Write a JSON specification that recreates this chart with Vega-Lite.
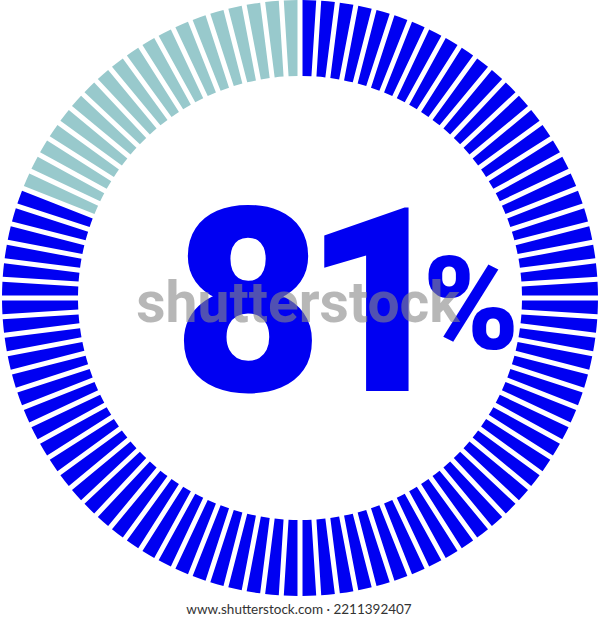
{
  "$schema": "https://vega.github.io/schema/vega-lite/v6.json",
  "width": 600,
  "height": 596,
  "padding": 0,
  "background": "white",
  "config": {"view": {"stroke": null}},
  "layer": [
    {
      "data": {"values": [
        {"seg":1,"status":"done","v":1},{"seg":2,"status":"done","v":1},{"seg":3,"status":"done","v":1},{"seg":4,"status":"done","v":1},{"seg":5,"status":"done","v":1},
        {"seg":6,"status":"done","v":1},{"seg":7,"status":"done","v":1},{"seg":8,"status":"done","v":1},{"seg":9,"status":"done","v":1},{"seg":10,"status":"done","v":1},
        {"seg":11,"status":"done","v":1},{"seg":12,"status":"done","v":1},{"seg":13,"status":"done","v":1},{"seg":14,"status":"done","v":1},{"seg":15,"status":"done","v":1},
        {"seg":16,"status":"done","v":1},{"seg":17,"status":"done","v":1},{"seg":18,"status":"done","v":1},{"seg":19,"status":"done","v":1},{"seg":20,"status":"done","v":1},
        {"seg":21,"status":"done","v":1},{"seg":22,"status":"done","v":1},{"seg":23,"status":"done","v":1},{"seg":24,"status":"done","v":1},{"seg":25,"status":"done","v":1},
        {"seg":26,"status":"done","v":1},{"seg":27,"status":"done","v":1},{"seg":28,"status":"done","v":1},{"seg":29,"status":"done","v":1},{"seg":30,"status":"done","v":1},
        {"seg":31,"status":"done","v":1},{"seg":32,"status":"done","v":1},{"seg":33,"status":"done","v":1},{"seg":34,"status":"done","v":1},{"seg":35,"status":"done","v":1},
        {"seg":36,"status":"done","v":1},{"seg":37,"status":"done","v":1},{"seg":38,"status":"done","v":1},{"seg":39,"status":"done","v":1},{"seg":40,"status":"done","v":1},
        {"seg":41,"status":"done","v":1},{"seg":42,"status":"done","v":1},{"seg":43,"status":"done","v":1},{"seg":44,"status":"done","v":1},{"seg":45,"status":"done","v":1},
        {"seg":46,"status":"done","v":1},{"seg":47,"status":"done","v":1},{"seg":48,"status":"done","v":1},{"seg":49,"status":"done","v":1},{"seg":50,"status":"done","v":1},
        {"seg":51,"status":"done","v":1},{"seg":52,"status":"done","v":1},{"seg":53,"status":"done","v":1},{"seg":54,"status":"done","v":1},{"seg":55,"status":"done","v":1},
        {"seg":56,"status":"done","v":1},{"seg":57,"status":"done","v":1},{"seg":58,"status":"done","v":1},{"seg":59,"status":"done","v":1},{"seg":60,"status":"done","v":1},
        {"seg":61,"status":"done","v":1},{"seg":62,"status":"done","v":1},{"seg":63,"status":"done","v":1},{"seg":64,"status":"done","v":1},{"seg":65,"status":"done","v":1},
        {"seg":66,"status":"done","v":1},{"seg":67,"status":"done","v":1},{"seg":68,"status":"done","v":1},{"seg":69,"status":"done","v":1},{"seg":70,"status":"done","v":1},
        {"seg":71,"status":"done","v":1},{"seg":72,"status":"done","v":1},{"seg":73,"status":"done","v":1},{"seg":74,"status":"done","v":1},{"seg":75,"status":"done","v":1},
        {"seg":76,"status":"done","v":1},{"seg":77,"status":"done","v":1},{"seg":78,"status":"done","v":1},{"seg":79,"status":"done","v":1},{"seg":80,"status":"done","v":1},
        {"seg":81,"status":"done","v":1},{"seg":82,"status":"left","v":1},{"seg":83,"status":"left","v":1},{"seg":84,"status":"left","v":1},{"seg":85,"status":"left","v":1},
        {"seg":86,"status":"left","v":1},{"seg":87,"status":"left","v":1},{"seg":88,"status":"left","v":1},{"seg":89,"status":"left","v":1},{"seg":90,"status":"left","v":1},
        {"seg":91,"status":"left","v":1},{"seg":92,"status":"left","v":1},{"seg":93,"status":"left","v":1},{"seg":94,"status":"left","v":1},{"seg":95,"status":"left","v":1},
        {"seg":96,"status":"left","v":1},{"seg":97,"status":"left","v":1},{"seg":98,"status":"left","v":1},{"seg":99,"status":"left","v":1},{"seg":100,"status":"left","v":1}
      ]},
      "mark": {"type": "arc", "outerRadius": 298, "innerRadius": 222, "padAngle": 0.0135},
      "encoding": {
        "theta": {"field": "v", "type": "quantitative", "stack": true},
        "order": {"field": "seg", "type": "quantitative", "sort": "ascending"},
        "color": {"field": "status", "type": "nominal", "scale": {"domain": ["done", "left"], "range": ["#0000f2", "#98c9cc"]}, "legend": null}
      }
    },
    {
      "data": {"values": [{"label": "8"}]},
      "mark": {"type": "text", "x": {"expr": "width/2"}, "y": {"expr": "height/2"}, "dx": -52, "dy": 93, "align": "center", "baseline": "alphabetic", "font": "Roboto", "fontWeight": 900, "fontSize": 258, "fill": "#0000f2"},
      "encoding": {"text": {"field": "label"}}
    },
    {
      "data": {"values": [{"label": "1"}]},
      "mark": {"type": "text", "x": {"expr": "width/2"}, "y": {"expr": "height/2"}, "dx": 78, "dy": 93, "align": "center", "baseline": "alphabetic", "font": "Roboto", "fontWeight": 900, "fontSize": 258, "fill": "#0000f2"},
      "encoding": {"text": {"field": "label"}}
    },
    {
      "data": {"values": [{"label": "%"}]},
      "mark": {"type": "text", "x": {"expr": "width/2"}, "y": {"expr": "height/2"}, "dx": 171, "dy": 51, "align": "center", "baseline": "alphabetic", "font": "Roboto", "fontWeight": 900, "fontSize": 130, "fill": "#0000f2"},
      "encoding": {"text": {"field": "label"}}
    },
    {
      "data": {"values": [{"label": "shutterstock"}]},
      "mark": {"type": "text", "x": {"expr": "width/2"}, "y": {"expr": "height/2"}, "dx": -2, "dy": 24, "align": "center", "baseline": "alphabetic", "font": "Roboto", "fontWeight": "bold", "fontSize": 57, "fill": "#888888", "opacity": 0.6},
      "encoding": {"text": {"field": "label"}}
    },
    {
      "data": {"values": [{"label": "www.shutterstock.com · 2211392407"}]},
      "mark": {"type": "text", "x": {"expr": "width/2"}, "y": {"expr": "height/2"}, "dx": -1, "dy": 316, "align": "center", "baseline": "alphabetic", "font": "Lato", "fontSize": 13.5, "fill": "#333333"},
      "encoding": {"text": {"field": "label"}}
    }
  ]
}
